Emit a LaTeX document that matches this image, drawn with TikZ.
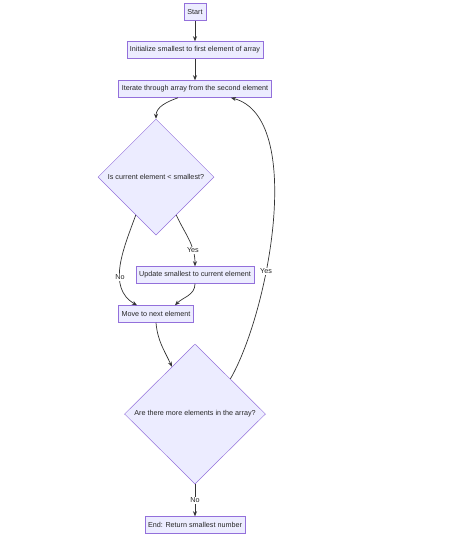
\documentclass[tikz,border=0pt]{standalone}
\usepackage{fontspec}
\setmainfont{Liberation Sans}
\usetikzlibrary{shapes.geometric,arrows.meta}
\definecolor{boxfill}{HTML}{ECECFF}
\definecolor{boxline}{HTML}{9370DB}
\definecolor{edgeline}{HTML}{333333}

\begin{document}
\begin{tikzpicture}
    [
      font=\fontsize{7.2}{8}\selectfont,
      stepbox/.style=
      {
        draw=boxline,
        fill=boxfill,
        line width=0.5pt,
        inner xsep=3.2pt,
        inner ysep=0pt,
        minimum height=17pt,
        text=black!85,
      },
      decision/.style=
      {
        diamond,
        aspect=1,
        draw=boxline,
        fill=boxfill,
        line width=0.5pt,
        inner sep=0pt,
        text=black!85,
      },
      flow/.style=
      {
        draw=edgeline,
        line width=0.7pt,
        -{Stealth[length=5pt,width=4pt]},
      },
      lbl/.style=
      {
        fill=white,
        inner sep=1pt,
        text=black!85,
      }
    ]
    \useasboundingbox (0pt,0pt) rectangle (474pt,-539pt);

    \node[stepbox](Start) at (195pt,-12pt) {Start};
    \node[stepbox, below of=Start, node distance=38pt](Init)
      {Initialize smallest to first element of array};
    \node[stepbox, below of=Init, node distance=39pt](Iterate)
      {Iterate through array from the second element};
    \node[decision, minimum width=116pt, minimum height=116pt,
      below of=Iterate, node distance=88pt, xshift=-39pt](Check)
      {Is current element < smallest?};
    \node[stepbox](Update) at (195pt,-275pt)
      {Update smallest to current element};
    \node[stepbox, below of=Check, node distance=137pt](Move)
      {Move to next element};
    \node[decision, minimum width=141pt, minimum height=140pt](More)
      at (195pt,-414pt) {Are there more elements in the array?};
    \node[stepbox, below of=More, node distance=111pt](End)
      {End: Return smallest number};

    % edges
    \draw[flow] (Start) -- (Init);
    \draw[flow] (Init) -- (Iterate);
    \draw[flow] ([xshift=-17pt]Iterate.south) to[out=200,in=90] (Check.north);
    \draw[flow] (Check.-62) to[out=-65,in=90]
      node[lbl, pos=0.72]{Yes} (Update.north);
    \draw[flow] (Check.-118) to[out=-110,in=150]
      node[lbl, pos=0.62]{No} ([xshift=-19pt]Move.north);
    \draw[flow] (Update.south) to[out=-90,in=45] ([xshift=19pt]Move.north);
    \draw[flow] (Move.south) to[out=-85,in=115] (More.116);
    \draw[flow] (More.north east) to[out=60,in=-15,looseness=0.7]
      node[lbl, pos=0.36]{Yes} ([xshift=36pt]Iterate.south);
    \draw[flow] (More) -- node[lbl]{No} (End);
  \end{tikzpicture}
\end{document}
